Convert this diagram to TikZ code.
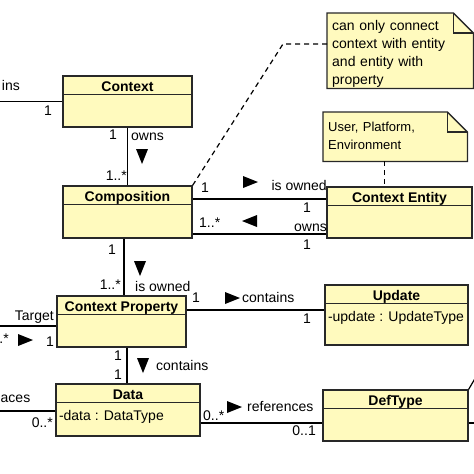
\documentclass[tikz,border=0pt]{standalone}
\usepackage{fontspec}
\setmainfont{Liberation Sans}
\usetikzlibrary{backgrounds}
\definecolor{umlyellow}{RGB}{255,250,190}
\definecolor{umlline}{RGB}{40,40,40}
\tikzset{
  umlclass/.style={draw=umlline, fill=umlyellow, line width=1.3pt, inner sep=0pt},
  umlsep/.style={draw=umlline, line width=1.3pt},
  umltitle/.style={inner sep=0pt, minimum height=19pt, text height=13pt, text depth=0pt,
    font=\fontsize{14}{16}\selectfont\bfseries},
  umlattr/.style={anchor=north west, inner xsep=3pt, inner ysep=0pt, text height=18pt,
    text depth=4pt, font=\fontsize{14}{16}\selectfont},
  umlnote/.style={anchor=north west, align=left, inner xsep=5pt, inner ysep=4pt},
  notebox/.style={draw=umlline, fill=umlyellow, line width=1.3pt},
  assoc/.style={line width=1.2pt},
  anchorline/.style={line width=1.2pt, dash pattern=on 5pt off 4pt},
  lbl/.style={inner sep=0pt, font=\fontsize{14}{16}\selectfont},
  dirright/.pic={\fill (-7,-6) -- (8,0) -- (-7,6) -- cycle;},
  dirleft/.pic={\fill (7,-6) -- (-8,0) -- (7,6) -- cycle;},
  dirdown/.pic={\fill (-6,-7) -- (6,-7) -- (0,8) -- cycle;}
}
\begin{document}
\begin{tikzpicture}[x=1pt, y=-1pt]
  \useasboundingbox (0,0) rectangle (474,474);
  \coordinate (leftedge) at (-5,0);
  \coordinate (rightedge) at (480,0);
  \coordinate (rightup) at (480,370);
  \coordinate (bend) at (283,44);

  % classes
  \node[umlclass, minimum width=129pt, minimum height=51pt] (context) at (127.5,101.5) {};
  \node[umltitle, minimum width=129pt, anchor=north] (contextT) at (context.north) {Context};
  \draw[umlsep] (contextT.south west) -- (contextT.south east);

  \node[umlclass, minimum width=129pt, minimum height=52pt] (composition) at (127.5,212) {};
  \node[umltitle, minimum width=129pt, anchor=north] (compositionT) at (composition.north) {Composition};
  \draw[umlsep] (compositionT.south west) -- (compositionT.south east);

  \node[umlclass, minimum width=145pt, minimum height=51pt] (entity) at (399.5,212.5) {};
  \node[umltitle, minimum width=145pt, anchor=north] (entityT) at (entity.north) {Context Entity};
  \draw[umlsep] (entityT.south west) -- (entityT.south east);

  \node[umlclass, minimum width=129pt, minimum height=51pt] (ctxprop) at (121.5,321.5) {};
  \node[umltitle, minimum width=129pt, anchor=north] (ctxpropT) at (ctxprop.north) {Context Property};
  \draw[umlsep] (ctxpropT.south west) -- (ctxpropT.south east);

  \node[umlclass, minimum width=143pt, minimum height=60pt] (update) at (396.5,315) {};
  \node[umltitle, minimum width=143pt, anchor=north] (updateT) at (update.north) {Update};
  \draw[umlsep] (updateT.south west) -- (updateT.south east);
  \node[umlattr] (updateA) at (updateT.south west) {-update : UpdateType};

  \node[umlclass, minimum width=144pt, minimum height=52pt] (data) at (128,410) {};
  \node[umltitle, minimum width=144pt, anchor=north] (dataT) at (data.north) {Data};
  \draw[umlsep] (dataT.south west) -- (dataT.south east);
  \node[umlattr] (dataA) at (dataT.south west) {-data : DataType};

  \node[umlclass, minimum width=145pt, minimum height=51pt] (deftype) at (395.5,415.5) {};
  \node[umltitle, minimum width=145pt, anchor=north] (deftypeT) at (deftype.north) {DefType};
  \draw[umlsep] (deftypeT.south west) -- (deftypeT.south east);

  % notes
  \node[umlnote, text width=136pt, text height=13pt, text depth=54pt,
    font=\fontsize{14}{18}\selectfont] (note1) at (327,13)
    {can only connect\\context with entity\\and entity with\\property};
  \node[umlnote, text width=134pt, text height=15pt, text depth=26pt,
    font=\fontsize{13}{18}\selectfont] (note2) at (323,112)
    {User, Platform,\\Environment};
  \begin{scope}[on background layer]
    \draw[notebox] (note1.north west) -- ([xshift=-20pt]note1.north east)
      -- ([yshift=-20pt]note1.north east) -- (note1.south east) -- (note1.south west) -- cycle;
    \draw[umlsep] ([xshift=-20pt]note1.north east) |- ([yshift=-20pt]note1.north east);
    \draw[notebox] (note2.north west) -- ([xshift=-20pt]note2.north east)
      -- ([yshift=-20pt]note2.north east) -- (note2.south east) -- (note2.south west) -- cycle;
    \draw[umlsep] ([xshift=-20pt]note2.north east) |- ([yshift=-20pt]note2.north east);
  \end{scope}
  \draw[anchorline] (composition.north east) -- (bend) -- (note1.west |- bend);
  \draw[anchorline] ([xshift=-11pt]note2.south) -- ([xshift=-11pt]note2.south |- entity.north);

  % associations
  \draw[assoc] (context.west) -- (context.west -| leftedge);
  \draw[assoc] (context) -- (composition);
  \draw[assoc] ([yshift=13pt]composition.east) -- ([yshift=13pt]composition.east -| entity.west);
  \draw[assoc] ([yshift=-22pt]composition.east) -- ([yshift=-22pt]composition.east -| entity.west);
  \draw[assoc] ([xshift=-3.5pt]composition.south) -- ([xshift=-3.5pt]composition.south |- ctxprop.north);
  \draw[assoc] ([yshift=11.5pt]ctxprop.east) -- ([yshift=11.5pt]ctxprop.east -| update.west);
  \draw[assoc] ([yshift=-4.5pt]ctxprop.west) -- ([yshift=-4.5pt]ctxprop.west -| leftedge);
  \draw[assoc] ([xshift=5.5pt]ctxprop.south) -- ([xshift=5.5pt]ctxprop.south |- data.north);
  \draw[assoc] ([yshift=-1pt]data.west) -- ([yshift=-1pt]data.west -| leftedge);
  \draw[assoc] ([yshift=-13pt]data.east) -- ([yshift=-13pt]data.east -| deftype.west);
  \draw[assoc] (deftype.north east) -- (rightup);
  \draw[assoc] ([yshift=-7.5pt]deftype.east) -- ([yshift=-7.5pt]deftype.east -| rightedge);

  % labels
  \node[lbl, anchor=mid east] (l1) at (20,88) {ins};
  \node[lbl, anchor=mid] (l2) at (48,113) {1};
  \node[lbl, anchor=mid] (l3) at (113,137) {1};
  \node[lbl, anchor=mid west] (l4) at (131,138) {owns};
  \pic at (142,156) {dirdown};
  \node[lbl, anchor=mid east] (l5) at (127,178) {1..*};
  \node[lbl, anchor=mid] (l6) at (205,190) {1};
  \pic at (250,182) {dirright};
  \node[lbl, anchor=mid east] (l7) at (327,188) {is owned};
  \node[lbl, anchor=mid] (l8) at (307,210) {1};
  \node[lbl, anchor=mid west] (l9) at (199,225) {1..*};
  \pic at (250,221) {dirleft};
  \node[lbl, anchor=mid east] (l10) at (327,229) {owns};
  \node[lbl, anchor=mid] (l11) at (307,247) {1};
  \node[lbl, anchor=mid] (l12) at (112,252) {1};
  \pic at (140,268) {dirdown};
  \node[lbl, anchor=mid east] (l13) at (121,287) {1..*};
  \node[lbl, anchor=mid west] (l14) at (135,289) {is owned};
  \node[lbl, anchor=mid] (l15) at (196,300) {1};
  \pic at (232,298) {dirright};
  \node[lbl, anchor=mid west] (l16) at (242,300) {contains};
  \node[lbl, anchor=mid] (l17) at (307,321) {1};
  \node[lbl, anchor=mid east] (l18) at (54,318) {Target};
  \node[lbl, anchor=mid east] (l19) at (9,341) {.*};
  \pic at (25,340) {dirright};
  \node[lbl, anchor=mid] (l20) at (50,344) {1};
  \node[lbl, anchor=mid] (l21) at (118,358) {1};
  \node[lbl, anchor=mid] (l22) at (118,377) {1};
  \pic at (143,365) {dirdown};
  \node[lbl, anchor=mid west] (l23) at (156,368) {contains};
  \node[lbl, anchor=mid west] (l24) at (0.5,400) {aces};
  \node[lbl, anchor=mid east] (l25) at (53,425) {0..*};
  \node[lbl, anchor=mid west] (l26) at (203,418) {0..*};
  \pic at (234,407) {dirright};
  \node[lbl, anchor=mid west] (l27) at (247,409) {references};
  \node[lbl, anchor=mid east] (l28) at (316,433) {0..1};
\end{tikzpicture}
\end{document}
